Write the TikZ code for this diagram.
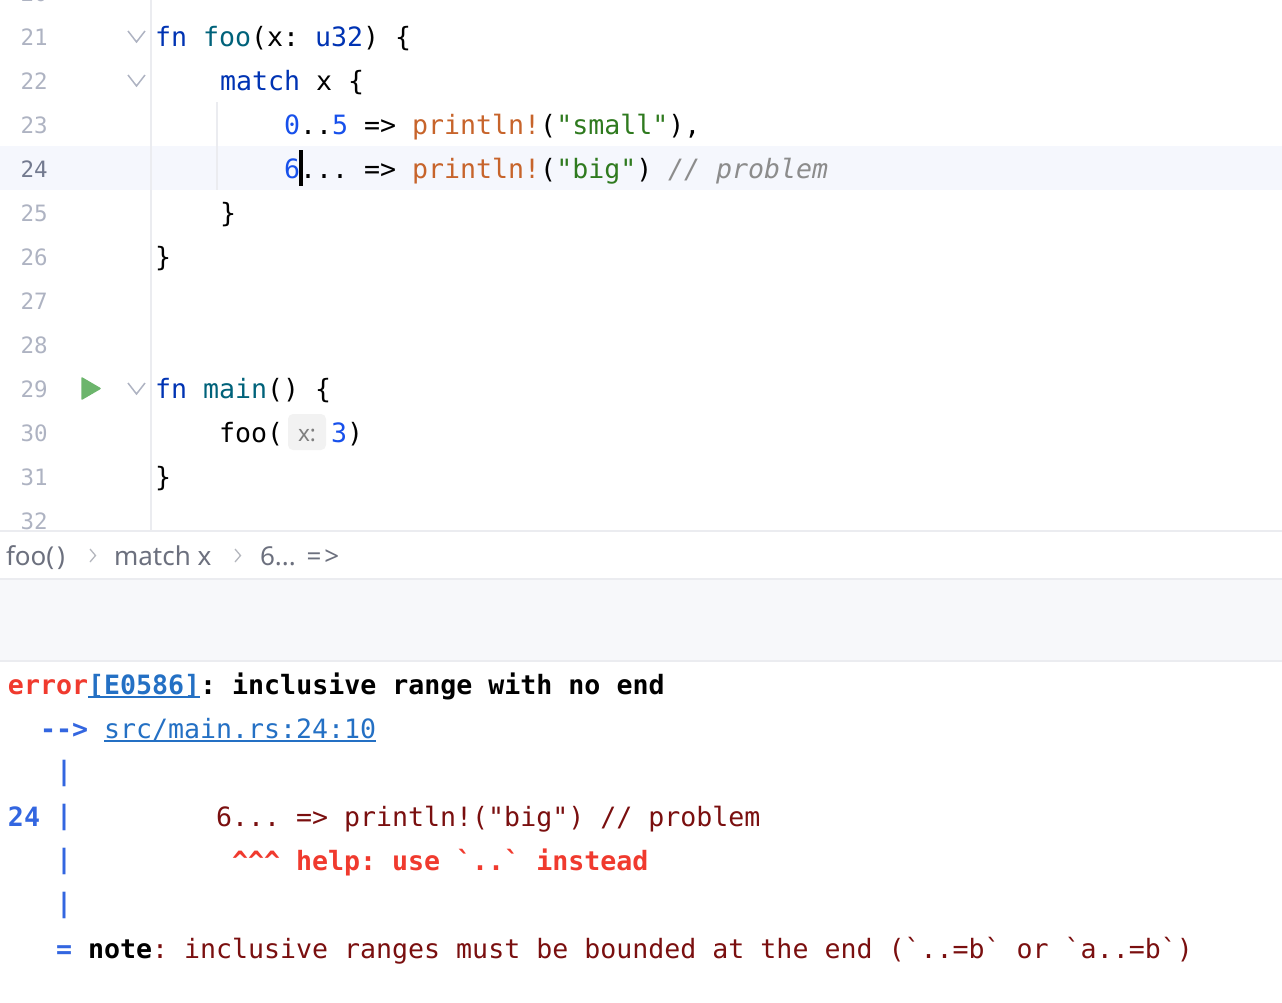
\documentclass[tikz,border=0pt]{standalone}
\usepackage{fontspec}
\setmainfont{Noto Sans}
\newfontfamily\codefont{DejaVu Sans Mono}
\usepackage{tikz}
\definecolor{gutterline}{HTML}{EBECF0}
\definecolor{rowfill}{HTML}{F5F7FD}
\definecolor{panelfill}{HTML}{F7F8FA}
\definecolor{numgray}{HTML}{AEB3C2}
\definecolor{numdark}{HTML}{737A8F}
\definecolor{crumbgray}{HTML}{6C707E}
\definecolor{kwblue}{HTML}{0033B3}
\definecolor{fnteal}{HTML}{00627A}
\definecolor{litblue}{HTML}{1750EB}
\definecolor{macroorange}{HTML}{C7642B}
\definecolor{strgreen}{HTML}{2F7A1F}
\definecolor{commentgray}{HTML}{8C8C8C}
\definecolor{hintfill}{HTML}{F2F2F2}
\definecolor{hinttext}{HTML}{7F7F7F}
\definecolor{rungreen}{HTML}{6CB56C}
\definecolor{errred}{HTML}{F03A2E}
\definecolor{linkblue}{HTML}{2470C4}
\definecolor{consblue}{HTML}{3366E0}
\definecolor{darkred}{HTML}{7A0F0F}
\newcommand{\kw}[1]{\textcolor{kwblue}{#1}}
\newcommand{\fname}[1]{\textcolor{fnteal}{#1}}
\newcommand{\lit}[1]{\textcolor{litblue}{#1}}
\newcommand{\mac}[1]{\textcolor{macroorange}{#1}}
\newcommand{\str}[1]{\textcolor{strgreen}{#1}}
\newcommand{\dred}[1]{\textcolor{darkred}{#1}}
\newcommand{\ered}[1]{\textcolor{errred}{#1}}
\newcommand{\cblue}[1]{\textcolor{consblue}{#1}}
\newcommand{\cpipe}{\raisebox{2pt}{\cblue{|}}}
\tikzstyle{textline} = [anchor=base west, inner sep=0pt, outer sep=0pt]
\tikzstyle{code} = [textline, font=\codefont\fontsize{26.6}{30}\selectfont\frenchspacing]
\tikzstyle{console} = [code, font=\codefont\bfseries\fontsize{26.6}{30}\selectfont\frenchspacing]
\tikzstyle{lineno} = [textline, text=numgray, font=\codefont\fontsize{22.5}{26}\selectfont]
\tikzstyle{crumb} = [textline, text=crumbgray, font=\fontsize{26}{30}\selectfont]
\tikzstyle{fold} = [draw=numgray, line width=1.5pt]
\tikzstyle{sep} = [draw=crumbgray!50, line width=1.3pt]
\tikzstyle{rule} = [draw=gutterline, line width=2pt]

\begin{document}
\begin{tikzpicture}[x=1pt, y=-1pt]
  \useasboundingbox (0,0) rectangle (1282,1002);
  % current row and gutter
  \fill[rowfill] (0,146) rectangle (1282,190);
  \draw[rule] (151,0) -- (151,531);
  \draw[rule] (217,102) -- (217,190);
  % line numbers
  \foreach \n in {20,21,22,23,25,26,27,28,29,30,31,32} {
    \pgfmathsetmacro{\rowy}{45+44*(\n-21)}
    \node[lineno] (num\n) at (20.5,\rowy) {\n};
  }
  \node[lineno, text=numdark] (num24) at (20.5,177) {24};
  % fold marks and run icon
  \draw[fold] (128,31) -- (136.5,42) -- (145,31);
  \draw[fold] (128,75) -- (136.5,86) -- (145,75);
  \draw[fold] (128,383) -- (136.5,394) -- (145,383);
  \fill[rungreen, draw=rungreen, line width=1.5pt, line join=round]
    (82,378) -- (100,388.5) -- (82,399) -- cycle;
  % editor
  \node[code] (l21) at (155,46) {\kw{fn} \fname{foo}(x: \kw{u32}) \{};
  \node[code] (l22) at (220,90) {\kw{match} x \{};
  \node[code] (l23) at (284,134) {\lit{0}..\lit{5} => \mac{println!}(\str{"small"}),};
  \node[code] (l24) at (284,178) {\lit{6}... => \mac{println!}(\str{"big"})};
  \node[code, text=commentgray, font=\codefont\itshape\fontsize{26.6}{30}\selectfont] (l24c) at (668,178) {// problem};
  \node[code] (l25) at (220,222) {\}};
  \node[code] (l26) at (155,266) {\}};
  \node[code] (l29) at (155,398) {\kw{fn} \fname{main}() \{};
  \node[code] (l30) at (219,442) {foo(};
  \fill[hintfill, rounded corners=5pt] (288,414) rectangle (326,450);
  \node[textline, text=hinttext, font=\fontsize{22.5}{26}\selectfont] (hint) at (298,441) {x:};
  \node[code] (l30b) at (331,442) {\lit{3})};
  \node[code] (l31) at (155,486) {\}};
  \fill[black] (299,150) rectangle (303,186);
  % breadcrumbs
  \fill[white] (0,531) rectangle (1282,578);
  \fill[panelfill] (0,578) rectangle (1282,661);
  \draw[rule] (0,531) -- (1282,531);
  \draw[rule] (0,578.5) -- (1282,578.5);
  \draw[rule] (0,661) -- (1282,661);
  \node[crumb] (crumbfoo) at (6,565) {foo(\kern3pt)};
  \draw[sep] (90,549) -- (95.5,555.5) -- (90,562);
  \node[crumb] (crumbmatch) at (114,565) {match x};
  \draw[sep] (235,549) -- (240.5,555.5) -- (235,562);
  \node[crumb] (crumbarm) at (260,565) {6...\kern4pt\ =\kern3pt>};
  % console
  \node[console] (c1) at (8,694) {\ered{error}\textcolor{linkblue}{[E0586]}: inclusive range with no end};
  \draw[linkblue, line width=1.5pt] (c1.base west) ++(80,3) -- ++(112,0);
  \node[console] (c2) at (40,738) {\cblue{-{}->}};
  \node[code, text=linkblue] (c2b) at (104,738) {src/main.rs:24:10};
  \draw[linkblue, line width=1.5pt] (c2b.base west) ++(0,3) -- ++(272,0);
  \node[console] (c3) at (56,782) {\cpipe};
  \node[console] (c4) at (8,826) {\cblue{24} \cpipe};
  \node[code, text=darkred] (c4b) at (216,826) {6... => println!("big") // problem};
  \node[console] (c5) at (56,870) {\cpipe};
  \node[console] (c5b) at (232,870) {\ered{\textasciicircum\textasciicircum\textasciicircum{} help: use `..` instead}};
  \node[console] (c6) at (56,914) {\cpipe};
  \node[console] (c7) at (56,958) {\cblue{=} note\mdseries\dred{:}};
  \node[code, text=darkred] (c7b) at (184,958) {inclusive ranges must be bounded at the end (`..=b` or `a..=b`)};
\end{tikzpicture}
\end{document}
